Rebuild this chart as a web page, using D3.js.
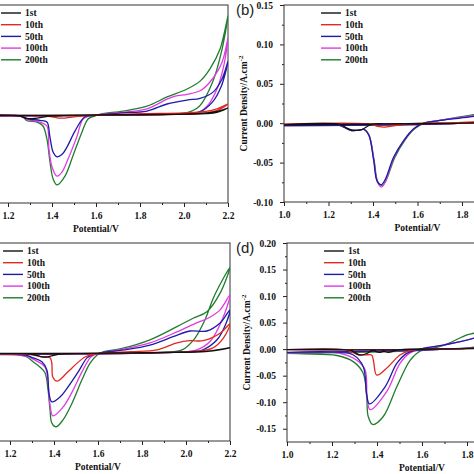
<!DOCTYPE html>
<html>
<head>
<meta charset="utf-8">
<script src="https://cdn.jsdelivr.net/npm/d3@7"></script>
<style>
  html, body { margin: 0; padding: 0; background: #fff; overflow: hidden; }
  svg { display: block; }
</style>
</head>
<body>
<div id="chart"></div>
<script>
// cycle names + colours, same for all four panels
const cycles = ['1st', '10th', '50th', '100th', '200th']
const colours = ['#111111', '#e0291f', '#1c1ca8', '#e03ae4', '#1f7d2c']

const potentialTicks = [1.0, 1.2, 1.4, 1.6, 1.8, 2.0, 2.2]
const potentialMinor = [1.1, 1.3, 1.5, 1.7, 1.9, 2.1]
const wideTicks = [-0.20, -0.15, -0.10, -0.05, 0.00, 0.05, 0.10, 0.15, 0.20, 0.25]
const bTicks = [-0.10, -0.05, 0.00, 0.05, 0.10, 0.15]
const dTicks = [-0.15, -0.10, -0.05, 0.00, 0.05, 0.10, 0.15, 0.20]

// [potential V, current density A/cm2], forward sweep 1.0 -> 2.2
const aForward = [
  [[1.0, -0.001], [1.3, -0.001], [1.6, 0.0], [1.8, 0.001], [2.0, 0.002], [2.1, 0.004], [2.15, 0.008], [2.2, 0.016]],
  [[1.0, -0.001], [1.5, -0.001], [1.8, 0.0], [2.0, 0.002], [2.1, 0.005], [2.15, 0.01], [2.2, 0.025]],
  [[1.0, -0.002], [1.4, -0.002], [1.6, -0.001], [1.8, 0.0], [1.95, 0.002], [2.07, 0.007], [2.13, 0.03], [2.17, 0.066], [2.2, 0.122]],
  [[1.0, -0.002], [1.6, -0.001], [1.8, 0.0], [1.95, 0.002], [2.06, 0.004], [2.105, 0.02], [2.15, 0.059], [2.18, 0.11], [2.2, 0.175]],
  [[1.0, -0.002], [1.6, -0.001], [1.8, 0.001], [1.95, 0.003], [2.01, 0.005], [2.07, 0.02], [2.13, 0.075], [2.17, 0.143], [2.2, 0.225]]
]
// reverse sweep 2.2 -> 1.0
const aReverse = [
  [[2.2, 0.016], [2.15, 0.006], [2.1, 0.003], [1.9, 0.001], [1.6, 0.0], [1.45, -0.001], [1.38, -0.003], [1.32, -0.008], [1.28, -0.007], [1.25, -0.002], [1.0, -0.002]],
  [[2.2, 0.025], [2.15, 0.014], [2.1, 0.008], [2.0, 0.005], [1.8, 0.003], [1.6, 0.0], [1.52, -0.003], [1.46, -0.007], [1.43, -0.007], [1.4, -0.004], [1.35, -0.002], [1.0, -0.002]],
  [[2.2, 0.122], [2.173, 0.082], [2.132, 0.052], [2.073, 0.038], [2.014, 0.034], [1.923, 0.025], [1.832, 0.009], [1.72, 0.005], [1.65, 0.002], [1.6, -0.001], [1.55, -0.004], [1.505, -0.036], [1.468, -0.073], [1.445, -0.09], [1.423, -0.095], [1.405, -0.084], [1.39, -0.048], [1.377, -0.016], [1.345, -0.012], [1.29, -0.009], [1.26, -0.003], [1.2, -0.002], [1.0, -0.002]],
  [[2.2, 0.175], [2.173, 0.12], [2.118, 0.075], [2.073, 0.055], [2.014, 0.047], [1.96, 0.043], [1.923, 0.036], [1.832, 0.014], [1.72, 0.006], [1.62, 0.001], [1.57, -0.003], [1.541, -0.009], [1.514, -0.048], [1.473, -0.1], [1.445, -0.13], [1.423, -0.139], [1.4, -0.118], [1.386, -0.077], [1.377, -0.025], [1.345, -0.016], [1.29, -0.011], [1.26, -0.003], [1.0, -0.002]],
  [[2.2, 0.225], [2.164, 0.15], [2.118, 0.105], [2.073, 0.077], [2.014, 0.059], [1.923, 0.041], [1.832, 0.02], [1.723, 0.009], [1.62, 0.002], [1.59, -0.003], [1.564, -0.009], [1.536, -0.039], [1.495, -0.093], [1.459, -0.139], [1.423, -0.159], [1.405, -0.145], [1.391, -0.107], [1.377, -0.055], [1.359, -0.025], [1.332, -0.016], [1.286, -0.013], [1.264, -0.003], [1.0, -0.002]]
]

const bForward = [
  [[1.0, -0.002], [1.4, -0.001], [1.8, 0.0], [2.0, 0.001], [2.2, 0.004]],
  [[1.0, -0.001], [1.4, -0.001], [1.8, 0.0], [2.0, 0.001], [2.2, 0.005]],
  [[1.0, -0.003], [1.5, -0.002], [1.8, 0.0], [2.0, 0.005], [2.2, 0.03]],
  [[1.0, -0.003], [1.5, -0.002], [1.8, 0.0], [2.0, 0.005], [2.2, 0.032]],
  [[1.0, -0.003], [1.5, -0.002], [1.8, 0.0], [2.0, 0.006], [2.2, 0.035]]
]
const bReverse = [
  [[2.2, 0.004], [1.8, 0.0], [1.5, -0.001], [1.4, -0.001], [1.38, -0.003], [1.35, -0.008], [1.31, -0.009], [1.28, -0.006], [1.26, -0.002], [1.0, -0.002]],
  [[2.2, 0.005], [1.8, 0.001], [1.55, -0.001], [1.5, -0.003], [1.45, -0.005], [1.42, -0.004], [1.38, -0.001], [1.0, -0.001]],
  [[2.2, 0.03], [2.0, 0.015], [1.836, 0.008], [1.688, 0.003], [1.628, 0.0], [1.583, -0.007], [1.538, -0.022], [1.493, -0.043], [1.454, -0.072], [1.436, -0.078], [1.418, -0.073], [1.403, -0.047], [1.381, -0.015], [1.36, -0.008], [1.33, -0.009], [1.3, -0.009], [1.27, -0.005], [1.25, -0.003], [1.0, -0.003]],
  [[2.2, 0.032], [2.0, 0.016], [1.836, 0.009], [1.688, 0.003], [1.628, 0.0], [1.583, -0.007], [1.538, -0.022], [1.493, -0.044], [1.456, -0.074], [1.438, -0.081], [1.42, -0.075], [1.404, -0.048], [1.382, -0.015], [1.36, -0.008], [1.33, -0.009], [1.3, -0.009], [1.27, -0.005], [1.25, -0.003], [1.0, -0.003]],
  [[2.2, 0.035], [2.0, 0.017], [1.836, 0.01], [1.688, 0.003], [1.632, 0.0], [1.587, -0.007], [1.542, -0.022], [1.497, -0.044], [1.458, -0.073], [1.44, -0.079], [1.421, -0.074], [1.405, -0.047], [1.382, -0.015], [1.36, -0.008], [1.33, -0.009], [1.3, -0.009], [1.27, -0.005], [1.25, -0.003], [1.0, -0.003]]
]

const cForward = [
  [[1.0, -0.001], [1.5, -0.001], [1.8, 0.0], [2.0, 0.002], [2.1, 0.004], [2.2, 0.012]],
  [[1.0, -0.002], [1.6, -0.001], [1.9, 0.001], [2.05, 0.004], [2.12, 0.011], [2.17, 0.034], [2.2, 0.066]],
  [[1.0, -0.003], [1.6, -0.002], [1.9, 0.001], [2.05, 0.004], [2.077, 0.007], [2.141, 0.03], [2.18, 0.065], [2.2, 0.098]],
  [[1.0, -0.003], [1.6, -0.002], [1.9, 0.001], [2.0, 0.003], [2.05, 0.007], [2.109, 0.026], [2.164, 0.075], [2.2, 0.132]],
  [[1.0, -0.004], [1.6, -0.002], [1.9, 0.002], [1.982, 0.007], [2.041, 0.034], [2.086, 0.075], [2.127, 0.128], [2.2, 0.195]]
]
const cReverse = [
  [[2.2, 0.012], [2.1, 0.004], [1.8, 0.001], [1.5, -0.001], [1.42, -0.003], [1.37, -0.009], [1.34, -0.008], [1.3, -0.003], [1.0, -0.002]],
  [[2.2, 0.066], [2.155, 0.045], [2.077, 0.028], [2.018, 0.028], [1.959, 0.023], [1.868, 0.007], [1.75, 0.003], [1.62, 0.0], [1.57, -0.004], [1.541, -0.009], [1.505, -0.023], [1.459, -0.045], [1.414, -0.064], [1.395, -0.055], [1.39, -0.023], [1.382, -0.011], [1.35, -0.009], [1.32, -0.006], [1.28, -0.003], [1.0, -0.002]],
  [[2.2, 0.098], [2.155, 0.068], [2.095, 0.05], [2.018, 0.05], [1.941, 0.037], [1.836, 0.018], [1.72, 0.007], [1.62, 0.001], [1.57, -0.005], [1.55, -0.011], [1.51, -0.043], [1.464, -0.077], [1.427, -0.1], [1.39, -0.111], [1.377, -0.091], [1.368, -0.039], [1.345, -0.02], [1.305, -0.011], [1.27, -0.005], [1.0, -0.003]],
  [[2.2, 0.132], [2.155, 0.098], [2.1, 0.079], [2.05, 0.069], [1.959, 0.048], [1.836, 0.023], [1.714, 0.009], [1.62, 0.001], [1.58, -0.005], [1.564, -0.011], [1.527, -0.043], [1.482, -0.089], [1.441, -0.123], [1.395, -0.143], [1.382, -0.118], [1.373, -0.068], [1.359, -0.032], [1.305, -0.014], [1.277, -0.007], [1.0, -0.003]],
  [[2.2, 0.195], [2.155, 0.136], [2.095, 0.094], [2.032, 0.079], [1.959, 0.06], [1.836, 0.03], [1.714, 0.011], [1.62, 0.002], [1.595, -0.005], [1.564, -0.023], [1.527, -0.061], [1.482, -0.114], [1.441, -0.152], [1.409, -0.168], [1.39, -0.159], [1.382, -0.13], [1.373, -0.084], [1.359, -0.045], [1.336, -0.032], [1.305, -0.02], [1.277, -0.009], [1.245, -0.005], [1.0, -0.004]]
]

const dForward = [
  [[1.0, -0.001], [1.5, -0.001], [1.8, 0.001], [2.0, 0.003], [2.2, 0.01]],
  [[1.0, -0.001], [1.5, -0.001], [1.8, 0.001], [2.0, 0.004], [2.2, 0.015]],
  [[1.0, -0.006], [1.5, -0.003], [1.7, 0.0], [1.85, 0.004], [2.0, 0.02], [2.2, 0.09]],
  [[1.0, -0.007], [1.5, -0.003], [1.7, 0.0], [1.85, 0.004], [2.0, 0.022], [2.2, 0.1]],
  [[1.0, -0.008], [1.5, -0.004], [1.7, 0.0], [1.85, 0.005], [2.0, 0.03], [2.2, 0.12]]
]
const dReverse = [
  [[2.2, 0.01], [1.8, 0.001], [1.5, -0.001], [1.45, -0.006], [1.43, -0.004], [1.41, -0.006], [1.38, -0.003], [1.35, -0.009], [1.324, -0.011], [1.3, -0.006], [1.28, -0.002], [1.0, -0.001]],
  [[2.2, 0.015], [1.8, 0.001], [1.6, 0.0], [1.547, -0.003], [1.502, -0.011], [1.45, -0.033], [1.399, -0.049], [1.384, -0.021], [1.376, -0.011], [1.347, -0.011], [1.317, -0.011], [1.287, -0.005], [1.25, -0.001], [1.0, -0.001]],
  [[2.2, 0.09], [2.0, 0.05], [1.84, 0.022], [1.7, 0.008], [1.6, 0.001], [1.532, -0.008], [1.488, -0.027], [1.436, -0.071], [1.366, -0.103], [1.354, -0.085], [1.339, -0.033], [1.295, -0.011], [1.236, -0.006], [1.0, -0.006]],
  [[2.2, 0.1], [2.0, 0.05], [1.84, 0.022], [1.7, 0.008], [1.6, 0.0], [1.547, -0.007], [1.502, -0.027], [1.443, -0.08], [1.369, -0.114], [1.356, -0.09], [1.347, -0.039], [1.31, -0.021], [1.236, -0.008], [1.0, -0.007]],
  [[2.2, 0.12], [2.0, 0.065], [1.84, 0.031], [1.8, 0.027], [1.696, 0.007], [1.62, -0.001], [1.591, -0.004], [1.547, -0.021], [1.488, -0.071], [1.428, -0.127], [1.381, -0.142], [1.361, -0.127], [1.354, -0.089], [1.339, -0.046], [1.296, -0.024], [1.222, -0.012], [1.074, -0.009], [1.0, -0.008]]
]

const W = 474
const H = 474
const font = '"Liberation Serif", "Times New Roman", serif'

const panels = [
  { label: null, fwd: aForward, rev: aReverse, yDomain: [-0.20, 0.25], yTicks: wideTicks, box: [-36, 228, 5, 203] },
  { label: '(b)', fwd: bForward, rev: bReverse, yDomain: [-0.10, 0.15], yTicks: bTicks, box: [284, 551, 5, 202] },
  { label: null, fwd: cForward, rev: cReverse, yDomain: [-0.20, 0.25], yTicks: wideTicks, box: [-34, 230, 243, 441] },
  { label: '(d)', fwd: dForward, rev: dReverse, yDomain: [-0.175, 0.20], yTicks: dTicks, box: [287, 557, 243, 442] }
]

const svg = d3.select('#chart').append('svg')
  .attr('width', W)
  .attr('height', H)

svg.append('rect').attr('width', W).attr('height', H).attr('fill', '#fff')

panels.forEach((p, i) => {
  const [x0, x1, y0, y1] = p.box
  const x = d3.scaleLinear().domain([1.0, 2.2]).range([x0, x1])
  const y = d3.scaleLinear().domain(p.yDomain).range([y1, y0])
  // left panels are cropped: their y axis sits outside the picture
  const yAxisShown = x0 > 0

  const g = svg.append('g')

  const clipId = 'clip' + i
  svg.append('clipPath').attr('id', clipId)
    .append('rect')
    .attr('x', x0).attr('y', y0)
    .attr('width', x1 - x0).attr('height', y1 - y0)

  // minor ticks
  g.append('g')
    .attr('transform', `translate(0,${y1})`)
    .call(d3.axisBottom(x).tickValues(potentialMinor).tickSize(2).tickFormat(''))
    .call(s => s.select('.domain').remove())
  const yMinor = p.yTicks.slice(0, -1).map(t => t + 0.025)
  g.append('g')
    .attr('transform', `translate(${x0},0)`)
    .call(d3.axisLeft(y).tickValues(yMinor).tickSize(2).tickFormat(''))
    .call(s => s.select('.domain').remove())

  // major ticks, labels only where they land inside the picture
  const xShown = potentialTicks.filter(t => x(t) > 0 && x(t) < W)
  g.append('g')
    .attr('transform', `translate(0,${y1})`)
    .call(d3.axisBottom(x).tickValues(potentialTicks).tickSize(4).tickPadding(5)
      .tickFormat(d => xShown.includes(d) ? d.toFixed(1) : ''))
    .call(s => s.select('.domain').remove())
    .attr('font-family', font).attr('font-size', 9.5).attr('font-weight', 'bold')
  g.append('g')
    .attr('transform', `translate(${x0},0)`)
    .call(d3.axisLeft(y).tickValues(p.yTicks).tickSize(4).tickPadding(7)
      .tickFormat(d => yAxisShown ? d.toFixed(2) : ''))
    .call(s => s.select('.domain').remove())
    .attr('font-family', font).attr('font-size', 9.5).attr('font-weight', 'bold')

  g.selectAll('.tick line').attr('stroke', '#222')
  g.selectAll('.tick text').attr('fill', '#111')
  g.selectAll('.tick text').filter(function () { return this.textContent === '' }).remove()

  // frame
  g.append('rect')
    .attr('x', x0).attr('y', y0)
    .attr('width', x1 - x0).attr('height', y1 - y0)
    .attr('fill', 'none')
    .attr('stroke', '#333')
    .attr('stroke-width', 1)

  // curves
  const line = d3.line()
    .x(d => x(d[0]))
    .y(d => y(d[1]))
    .curve(d3.curveCatmullRom.alpha(0.5))

  const loops = cycles.map((c, k) => ({ k, pts: p.fwd[k].concat(p.rev[k].slice(1)) }))
  g.append('g')
    .attr('clip-path', `url(#${clipId})`)
    .selectAll('path')
    .data(loops.slice().reverse())
    .join('path')
    .attr('d', d => line(d.pts))
    .attr('fill', 'none')
    .attr('stroke', d => colours[d.k])
    .attr('stroke-width', 1.3)
    .attr('stroke-linejoin', 'round')

  // legend
  const leg = g.append('g')
    .attr('transform', `translate(${x0 + 37},${y0 + 8})`)
  cycles.forEach((c, k) => {
    const row = leg.append('g').attr('transform', `translate(0,${k * 11.7})`)
    row.append('line')
      .attr('x1', 0).attr('x2', 20)
      .attr('stroke', colours[k]).attr('stroke-width', 1.4)
    row.append('text')
      .attr('x', 24).attr('y', 3.3)
      .attr('font-family', font).attr('font-size', 9.5).attr('font-weight', 'bold')
      .attr('fill', '#111')
      .text(c)
  })

  // axis titles
  g.append('text')
    .attr('x', (x0 + x1) / 2).attr('y', y1 + 29)
    .attr('text-anchor', 'middle')
    .attr('font-family', font).attr('font-size', 9.5).attr('font-weight', 'bold')
    .attr('fill', '#111')
    .text('Potential/V')

  if (yAxisShown) {
    const yt = g.append('text')
      .attr('transform', `translate(${x0 - 37},${(y0 + y1) / 2}) rotate(-90)`)
      .attr('text-anchor', 'middle')
      .attr('font-family', font).attr('font-size', 9.5).attr('font-weight', 'bold')
      .attr('fill', '#111')
    yt.append('tspan').text('Current Density/A.cm')
    yt.append('tspan').attr('dy', -4).attr('font-size', 7).text('-2')
  }

  if (p.label) {
    svg.append('text')
      .attr('x', 236).attr('y', y0 + 10)
      .attr('font-family', '"Liberation Sans", Arial, sans-serif')
      .attr('font-size', 15)
      .attr('fill', '#222')
      .text(p.label)
  }
})
</script>
</body>
</html>
